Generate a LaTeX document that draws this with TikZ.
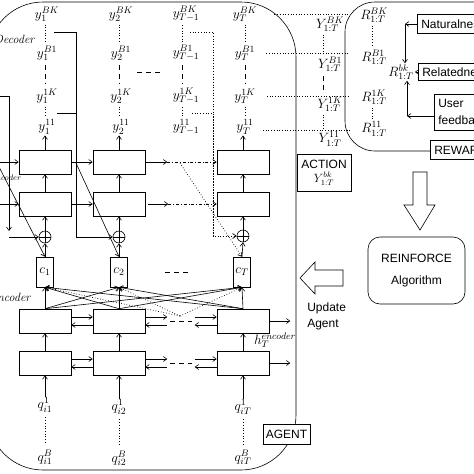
\RequirePackage{fix-cm}
\documentclass[tikz,border=0pt]{standalone}
\usepackage[no-math]{fontspec}
\setmainfont{Liberation Sans}
\usetikzlibrary{arrows.meta}
\DeclareMathSizes{13.5}{13.5}{9.5}{7}
\begin{document}
\begin{tikzpicture}[x=1pt,y=-1pt,
  >={Straight Barb[length=3.5pt,width=5pt]},
  line width=0.6pt,
  font=\fontsize{12}{14}\selectfont,
  box/.style={draw,minimum width=52pt,minimum height=24pt,inner sep=0pt},
  cbox/.style={draw,minimum width=17pt,minimum height=30pt,inner sep=0pt,font=\fontsize{13.5}{15}\selectfont},
  opl/.style={draw,circle,minimum size=12pt,inner sep=0pt,
    path picture={\draw (path picture bounding box.north)--(path picture bounding box.south)
      (path picture bounding box.west)--(path picture bounding box.east);}},
  lbl/.style={inner sep=1pt,font=\fontsize{13.5}{15}\selectfont},
  tbox/.style={draw,fill=white,inner xsep=4pt,inner ysep=0pt,anchor=west},
  dots/.style={dotted,line width=0.7pt},
  dsh/.style={dash pattern=on 5pt off 4pt}
]
\useasboundingbox (0,0) rectangle (474,474);
\clip (0,0) rectangle (474,474);

% outer frames
\draw[rounded corners=55pt] (-12,2) rectangle (296,470);
\draw[rounded corners=30pt] (345,2) rectangle (560,151);

% ---------------- decoder ----------------
\node[box] (d1u) at (45,162) {};
\node[box] (d1l) at (45,204) {};
\node[box] (d2u) at (119,162) {};
\node[box] (d2l) at (119,204) {};
\node[box] (dTu) at (243,162) {};
\node[box] (dTl) at (243,204) {};

\node[opl] (o1) at (45,237) {};
\node[opl] (o2) at (119,237) {};
\node[opl] (oT) at (243,236) {};

\node[cbox] (c1) at (45,272) {$c_1$};
\node[cbox] (c2) at (119,272) {$c_2$};
\node[cbox] (cT) at (242,272) {$c_T$};

% output labels
\node[lbl] (y1BK) at (47,14) {$y_1^{BK}$};
\node[lbl] (y1B1) at (47,53) {$y_1^{B1}$};
\node[lbl] (y1iK) at (47,96) {$y_1^{1K}$};
\node[lbl] (y1ii) at (47,127) {$y_1^{11}$};
\node[lbl] (y2BK) at (121,14) {$y_2^{BK}$};
\node[lbl] (y2B1) at (121,53) {$y_2^{B1}$};
\node[lbl] (y2iK) at (121,96) {$y_2^{1K}$};
\node[lbl] (y2ii) at (121,127) {$y_2^{11}$};
\node[lbl] (ymBK) at (186,14) {$y_{T-1}^{BK}$};
\node[lbl] (ymB1) at (186,53) {$y_{T-1}^{B1}$};
\node[lbl] (ymiK) at (186,96) {$y_{T-1}^{1K}$};
\node[lbl] (ymii) at (186,127) {$y_{T-1}^{11}$};
\node[lbl] (yTBK) at (245,14) {$y_T^{BK}$};
\node[lbl] (yTB1) at (245,53) {$y_T^{B1}$};
\node[lbl] (yTiK) at (245,96) {$y_T^{1K}$};
\node[lbl] (yTii) at (245,127) {$y_T^{11}$};

% vertical beam connectors
\draw[dots,shorten <=2pt,shorten >=2pt] ([xshift=-2pt]y1BK.south) -- ([xshift=-2pt]y1B1.north);
\draw[dsh,shorten <=3pt,shorten >=3pt] ([xshift=-2pt]y1B1.south) -- ([xshift=-2pt]y1iK.north);
\draw[dots,shorten <=2pt,shorten >=2pt] ([xshift=-2pt]y1iK.south) -- ([xshift=-2pt]y1ii.north);
\draw[dots,shorten <=2pt,shorten >=2pt] ([xshift=-2pt]y2BK.south) -- ([xshift=-2pt]y2B1.north);
\draw[dsh,shorten <=3pt,shorten >=3pt] ([xshift=-2pt]y2B1.south) -- ([xshift=-2pt]y2iK.north);
\draw[dots,shorten <=2pt,shorten >=2pt] ([xshift=-2pt]y2iK.south) -- ([xshift=-2pt]y2ii.north);
\draw[dots,shorten <=2pt,shorten >=2pt] ([xshift=-4pt]ymBK.south) -- ([xshift=-4pt]ymB1.north);
\draw[dsh,shorten <=3pt,shorten >=3pt] ([xshift=-4pt]ymB1.south) -- ([xshift=-4pt]ymiK.north);
\draw[dots,shorten <=2pt,shorten >=2pt] ([xshift=-4pt]ymiK.south) -- ([xshift=-4pt]ymii.north);
\draw[dots,shorten <=2pt,shorten >=2pt] (yTBK.south) -- (yTB1.north);
\draw[dsh,shorten <=3pt,shorten >=3pt] (yTB1.south) -- (yTiK.north);
\draw[dots,shorten <=2pt,shorten >=2pt] (yTiK.south) -- (yTii.north);
\coordinate (hd1) at (137,72);
\coordinate (hd2) at (161,72);
\draw[dsh] (hd1) -- (hd2);

% decoder vertical flow
\draw[->] (c1.north) -- (o1.south);
\draw[->] (o1.north) -- (d1l.south);
\draw[->] (d1l.north) -- (d1u.south);
\draw[->] (d1u.north) -- (d1u.north |- y1ii.south);
\draw[->] (c2.north) -- (o2.south);
\draw[->] (o2.north) -- (d2l.south);
\draw[->] (d2l.north) -- (d2u.south);
\draw[->] (d2u.north) -- (d2u.north |- y2ii.south);
\draw[->] (cT.north) -- (oT.south);
\draw[->] (oT.north) -- (dTl.south);
\draw[->] (dTl.north) -- (dTu.south);
\draw[->] (dTu.north) -- (dTu.north |- yTii.south);

% decoder horizontal flow
\coordinate (in1) at (-5,162);
\coordinate (in2) at (-5,204);
\draw[->] (in1) -- (d1u.west);
\draw[->] (in2) -- (d1l.west);
\draw[->] (d1u.east) -- (d2u.west);
\draw[->] (d1l.east) -- (d2l.west);
\draw[->] (d2u.east) -- ++(22,0) coordinate (m1);
\draw[dash dot,->] (m1) -- (dTu.west);
\draw[->] ([xshift=3pt]d2l.east) -- ++(20,0) coordinate (m2);
\draw[dash dot,->] (m2) -- (dTl.west);

% previous outputs into oplus
\coordinate (s1) at (-5,96);
\coordinate (k1) at (9,96);
\coordinate (k2) at (9,231);
\coordinate (v1) at (9,237);
\draw (s1) -- (k1);
\draw[->] (k1) -- (k2);
\draw[->] (v1) -- (o1.west);
\coordinate (b1a) at (54,32);
\coordinate (b1b) at (57,113);
\coordinate (v2) at (76,237);
\draw (b1a) -| (v2);
\draw[->] (b1b) -| (v2) -- (o2.west);
\coordinate (bTa) at (190,32);
\coordinate (bTb) at (192,113);
\coordinate (vT) at (213,236);
\draw[dots] (bTa) -| (vT);
\draw[dots,->] (bTb) -| (vT) -- (oT.west);

% diagonals into context
\coordinate (g1) at (-3,163);
\coordinate (g2) at (76,163);
\coordinate (gT) at (180,163);
\draw[->] (g1) -- (c1.north);
\draw[->] (g2) -- (c2.north);
\draw[dots,->] (gT) -- (cT.north);
\coordinate (cd1) at (165,272);
\coordinate (cd2) at (188,272);
\draw[dsh] (cd1) -- (cd2);

\node[anchor=east,inner sep=1pt] (declbl) at (37,39) {$\mathit{Decoder}$};
\node[anchor=east,inner sep=1pt] (hdec) at (23,181) {$h_T^{encoder}$};

% ---------------- encoder ----------------
\node[box] (e1u) at (45,321) {};
\node[box] (e1l) at (45,363) {};
\node[box] (e2u) at (119,321) {};
\node[box] (e2l) at (119,363) {};
\node[box] (eTu) at (243,321) {};
\node[box] (eTl) at (243,363) {};

\node[anchor=east,inner sep=1pt] (enclbl) at (33,297) {$\mathit{Encoder}$};
\node[lbl] (hT) at (275,340) {$h_T^{encoder}$};

\node[lbl] (q1a) at (45,405) {$q_{i1}^{1}$};
\node[lbl] (q1b) at (45,457) {$q_{i1}^{B}$};
\node[lbl] (q2a) at (119,407) {$q_{i2}^{1}$};
\node[lbl] (q2b) at (119,458) {$q_{i2}^{B}$};
\node[lbl] (qTa) at (243,407) {$q_{iT}^{1}$};
\node[lbl] (qTb) at (243,457) {$q_{iT}^{B}$};

\draw[->] (q1a.north) -- (e1l.south);
\draw[->] (q2a.north) -- (e2l.south);
\draw[->] (qTa.north) -- (eTl.south);
\draw[dots,shorten <=4pt,shorten >=4pt] (q1a.south) -- (q1b.north);
\draw[dots,shorten <=4pt,shorten >=4pt] (q2a.south) -- (q2b.north);
\draw[dots,shorten <=4pt,shorten >=4pt] (qTa.south) -- (qTb.north);

\draw[->] (e1l.north) -- (e1u.south);
\draw[->] (e2l.north) -- (e2u.south);
\draw[->] (eTl.north) -- (eTu.south);

% bidirectional links
\draw[->] ([yshift=4pt]e1u.east) -- ([yshift=4pt]e2u.west);
\draw[<-] ([yshift=-4pt]e1u.east) -- ([yshift=-4pt]e2u.west);
\draw[->] ([yshift=4pt]e1l.east) -- ([yshift=4pt]e2l.west);
\draw[<-] ([yshift=-4pt]e1l.east) -- ([yshift=-4pt]e2l.west);
\draw[->] ([yshift=4pt]e2u.east) -- ++(22,0);
\draw[<-] ([yshift=-4pt]e2u.east) -- ++(22,0);
\draw[->] ([yshift=4pt]e2l.east) -- ++(22,0);
\draw[<-] ([yshift=-4pt]e2l.east) -- ++(22,0);
\draw[dsh] ([xshift=25pt]e2u.east) -- ([xshift=-25pt]eTu.west);
\draw[dsh] ([xshift=25pt]e2l.east) -- ([xshift=-25pt]eTl.west);
\draw[->] ([shift={(-22pt,4pt)}]eTu.west) -- ([yshift=4pt]eTu.west);
\draw[<-] ([shift={(-22pt,-4pt)}]eTu.west) -- ([yshift=-4pt]eTu.west);
\draw[->] ([shift={(-22pt,4pt)}]eTl.west) -- ([yshift=4pt]eTl.west);
\draw[<-] ([shift={(-22pt,-4pt)}]eTl.west) -- ([yshift=-4pt]eTl.west);
\draw[->] (eTu.east) -- ++(21,0);
\draw[->] (eTl.east) -- ++(21,0);

% attention
\draw[->] (e1u.north) -- (c1.south);
\draw[->] (e1u.north) -- (c2.south);
\draw[->] (e1u.north) -- (cT.south);
\draw[->] (e2u.north) -- (c1.south);
\draw[->] (e2u.north) -- (c2.south);
\draw[->] (e2u.north) -- (cT.south);
\draw[->] (eTu.north) -- (c1.south);
\draw[->] (eTu.north) -- (c2.south);
\draw[->] (eTu.north) -- (cT.south);
\coordinate (emid) at (180,316);
\draw[dots,->] (emid) -- (c1.south);
\draw[dots,->] (emid) -- (c2.south);
\draw[dots,->] (emid) -- (cT.south);

% ---------------- right side ----------------
\node[lbl] (YBK) at (330,24) {$Y_{1:T}^{BK}$};
\node[lbl] (YB1) at (330,64) {$Y_{1:T}^{B1}$};
\node[lbl] (YiK) at (330,104) {$Y_{1:T}^{1K}$};
\node[lbl] (Yii) at (330,139) {$Y_{1:T}^{11}$};
\draw[dots,shorten <=2pt,shorten >=2pt] ([xshift=-7pt]YBK.south) -- ([xshift=-7pt]YB1.north);
\draw[dsh,shorten <=3pt,shorten >=3pt] ([xshift=-7pt]YB1.south) -- ([xshift=-7pt]YiK.north);
\draw[dots,shorten <=2pt,shorten >=2pt] ([xshift=-7pt]YiK.south) -- ([xshift=-7pt]Yii.north);

\node[lbl] (RBK) at (374,15) {$R_{1:T}^{BK}$};
\node[lbl] (RB1) at (374,57) {$R_{1:T}^{B1}$};
\node[lbl] (RiK) at (374,97) {$R_{1:T}^{1K}$};
\node[lbl] (Rii) at (374,129) {$R_{1:T}^{11}$};
\draw[dots,shorten <=2pt,shorten >=2pt] ([xshift=-2pt]RBK.south) -- ([xshift=-2pt]RB1.north);
\draw[dots,shorten <=2pt,shorten >=2pt] ([xshift=-2pt]RiK.south) -- ([xshift=-2pt]Rii.north);

\draw[dots,shorten <=16pt,shorten >=9pt] (yTBK.east) -- (RBK.west |- yTBK.east);
\draw[dots,shorten <=10pt,shorten >=12pt] (yTB1.east) -- (RB1.west |- yTB1.east);
\draw[dots,shorten <=10pt,shorten >=10pt] (yTiK.east) -- (RiK.west |- yTiK.east);
\coordinate (lT) at (263,130);
\coordinate (lR) at (352,130);
\draw[dots] (lT) -- (lR);

\coordinate (bar1) at (390,8);
\coordinate (bar2) at (390,142);
\draw[double,double distance=1.6pt,line width=0.6pt] (bar1) -- (bar2);

\node[lbl] (Rbk) at (401,72) {$R_{1:T}^{bk}$};
\node[tbox,minimum height=19pt] (nat) at (417,24) {Naturalness};
\node[tbox,minimum height=17pt] (rel) at (418,72) {Relatedness};
\node[tbox,minimum height=36pt,align=left] (usr) at (434,112) {User\\[3pt]feedback};
\node[tbox,minimum height=19pt] (rew) at (430,150) {REWARD};

\coordinate (nc) at (405,24);
\draw[->] (nat.west) -- (nc);
\draw[->] (nc) -- (nc |- Rbk.north);
\draw[->] (rel.west) -- (Rbk.east);
\coordinate (uc) at (407,116);
\draw[->] (usr.west |- uc) -- (uc);
\draw[->] (uc) -- (uc |- Rbk.south);

\node[draw,fill=white,align=center,minimum width=54pt,minimum height=37pt,inner sep=1pt] (act) at (324,172.5) {ACTION\\$Y_{1:T}^{bk}$};

% hollow arrows
\draw (413,172) -- (427,172) -- (427,205) -- (435,205) -- (420,230) -- (404,205) -- (413,205) -- cycle;
\draw (343,270) -- (343,286) -- (315,286) -- (315,294) -- (300,278) -- (315,262) -- (315,270) -- cycle;

\node[draw,rounded corners=12pt,align=center,minimum width=97pt,minimum height=67pt] (rf) at (416.5,270.5) {REINFORCE\\[8pt]Algorithm};
\node[align=left,anchor=north west,inner sep=0pt] (upd) at (307,302) {Update\\[2pt]Agent};

\node[draw,fill=white,minimum width=47pt,minimum height=20pt,inner sep=1pt] (agent) at (286.5,434) {AGENT};
\end{tikzpicture}
\end{document}
